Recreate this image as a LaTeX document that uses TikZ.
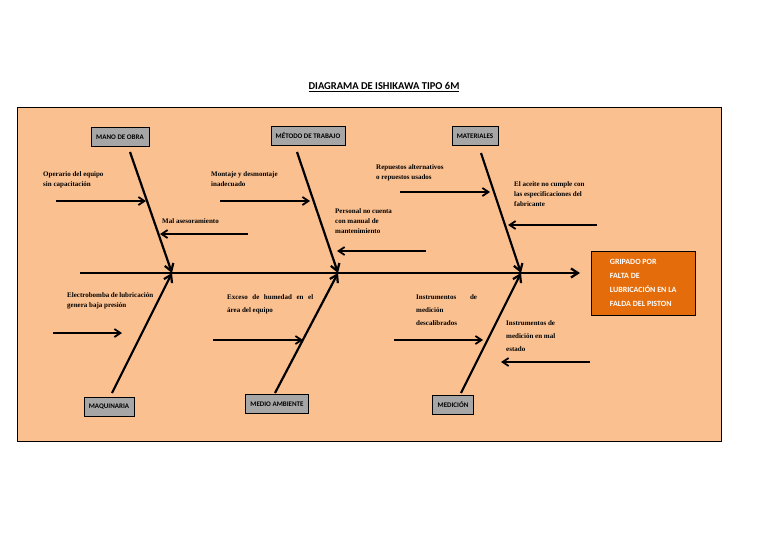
\documentclass[tikz,border=0pt]{standalone}
\usepackage{fontspec}
\setmainfont{Liberation Serif}
\newfontfamily\calfont{Carlito}
\usetikzlibrary{arrows.meta}
\definecolor{bg}{HTML}{FAC090}
\definecolor{eff}{HTML}{E46C0A}
\definecolor{cat}{HTML}{A6A6A6}
\begin{document}
\begin{tikzpicture}[x=1pt,y=-1pt,
 bone/.style={line width=2.2pt,-{Straight Barb[length=7pt,width=9pt]}},
 sub/.style={line width=1.8pt,-{Straight Barb[length=6pt,width=8pt]}},
 cat/.style={draw,fill=cat,font=\calfont\bfseries\fontsize{7}{8}\selectfont,inner xsep=5pt,inner ysep=4pt,minimum height=19pt},
 txt/.style={anchor=north west,align=left,font=\bfseries\fontsize{7}{10}\selectfont,inner sep=0pt}]
\useasboundingbox (0,0) rectangle (768,543);
\node[font=\calfont\bfseries\fontsize{10.5}{12}\selectfont] (title) at (384,87) {\underline{DIAGRAMA DE ISHIKAWA TIPO 6M}};
\node[draw,fill=bg,minimum width=704pt,minimum height=334pt,anchor=north west,inner sep=0pt] (bg) at (17,107) {};
\node[draw,fill=eff,text=white,font=\calfont\bfseries\fontsize{8}{14}\selectfont,align=left,anchor=north west,minimum width=104pt,minimum height=64pt,inner xsep=6pt] (eff) at (591,251) {GRIPADO POR\\FALTA DE\\LUBRICACIÓN EN LA\\FALDA DEL PISTON};
\coordinate (s0) at (80,273);
\coordinate (s1) at (580,273);
\draw[bone] (s0) -- (s1);
\coordinate (j1) at (172,273); \coordinate (j2) at (338,273); \coordinate (j3) at (521,273);
\node[cat] (mo) at (120,137) {MANO DE OBRA};
\node[cat] (mt) at (308,136) {MÉTODO DE TRABAJO};
\node[cat] (ma) at (475,136) {MATERIALES};
\node[cat] (mq) at (109,407) {MAQUINARIA};
\node[cat] (me) at (277,404) {MEDIO AMBIENTE};
\node[cat] (md) at (453,405) {MEDICIÓN};
\coordinate (t1) at (130,152); \coordinate (t2) at (297,152); \coordinate (t3) at (481,153);
\coordinate (b1) at (112,393); \coordinate (b2) at (275,393); \coordinate (b3) at (461,393);
\draw[bone] (t1) -- (j1); \draw[bone] (t2) -- (j2); \draw[bone] (t3) -- (j3);
\draw[bone] (b1) -- (j1); \draw[bone] (b2) -- (j2); \draw[bone] (b3) -- (j3);
% sub causes
\node[txt] (c1) at (43,171) {Operario del equipo\\sin capacitación};
\coordinate (a1) at (56,201); \coordinate (e1) at (146,201); \draw[sub] (a1) -- (e1);
\node[txt] (c2) at (162,218) {Mal asesoramiento};
\coordinate (a2) at (248,234); \coordinate (e2) at (160,234); \draw[sub] (a2) -- (e2);
\node[txt] (c3) at (211,171) {Montaje y desmontaje\\inadecuado};
\coordinate (a3) at (220,201); \coordinate (e3) at (310,201); \draw[sub] (a3) -- (e3);
\node[txt] (c4) at (335,208) {Personal no cuenta\\con manual de\\mantenimiento};
\coordinate (a4) at (426,251); \coordinate (e4) at (337,251); \draw[sub] (a4) -- (e4);
\node[txt] (c5) at (376,164) {Repuestos alternativos\\o repuestos usados};
\coordinate (a5) at (400,192); \coordinate (e5) at (490,192); \draw[sub] (a5) -- (e5);
\node[txt] (c6) at (514,181) {El aceite no cumple con\\las especificaciones del\\fabricante};
\coordinate (a6) at (597,225); \coordinate (e6) at (508,225); \draw[sub] (a6) -- (e6);
\node[txt,text width=86pt,align=justify] (c7) at (67,292) {Electrobomba de lubricación genera baja presión};
\coordinate (a7) at (53,333); \coordinate (e7) at (122,333); \draw[sub] (a7) -- (e7);
\node[txt,text width=86pt,align=justify,font=\bfseries\fontsize{7}{13}\selectfont] (c8) at (227,294) {Exceso de humedad en el área del equipo};
\coordinate (a8) at (213,340); \coordinate (e8) at (303,340); \draw[sub] (a8) -- (e8);
\node[txt,font=\bfseries\fontsize{7}{13}\selectfont] (c9) at (416,294) {Instrumentos\hspace{12pt} de\\medición\\descalibrados};
\coordinate (a9) at (394,340); \coordinate (e9) at (483,340); \draw[sub] (a9) -- (e9);
\node[txt,font=\bfseries\fontsize{7}{13}\selectfont] (c10) at (506,320) {Instrumentos de\\medición en mal\\estado};
\coordinate (a10) at (590,362); \coordinate (e10) at (501,362); \draw[sub] (a10) -- (e10);
\end{tikzpicture}
\end{document}
